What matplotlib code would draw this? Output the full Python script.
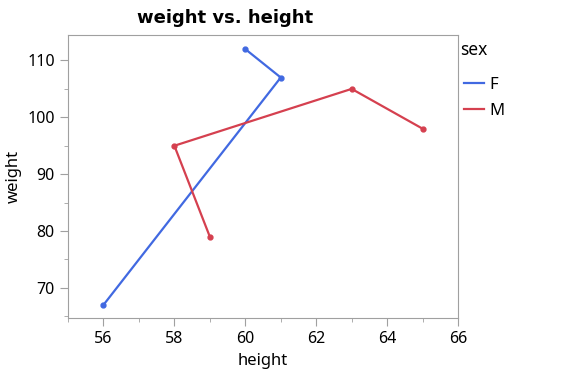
import matplotlib
matplotlib.use('Agg')
import matplotlib.pyplot as plt
from matplotlib.ticker import MultipleLocator

# data
f_height = [56, 61, 60]
f_weight = [67, 107, 112]
m_height = [59, 58, 63, 65]
m_weight = [79, 95, 105, 98]

blue = '#4169e1'
red = '#d5404f'
grey = '#a0a0a0'

plt.rcParams['font.family'] = ['Noto Sans', 'DejaVu Sans']

fig = plt.figure(figsize=(5.62, 3.75), dpi=100)
ax = fig.add_axes([0.121, 0.152, 0.694, 0.755])

ax.plot(f_height, f_weight, color=blue, lw=1.6, marker='o', ms=3.5, label='F')
ax.plot(m_height, m_weight, color=red, lw=1.6, marker='o', ms=3.5, label='M')

ax.set_xlim(55, 66)
ax.set_ylim(64.7, 114.5)
ax.xaxis.set_major_locator(MultipleLocator(2))
ax.xaxis.set_minor_locator(MultipleLocator(1))
ax.yaxis.set_major_locator(MultipleLocator(10))
ax.yaxis.set_minor_locator(MultipleLocator(5))

for s in ax.spines.values():
    s.set_color(grey)
ax.tick_params(which='both', color=grey, labelsize=11.5)
ax.tick_params(which='major', length=6)
ax.tick_params(which='minor', length=3)

ax.set_xlabel('height', fontsize=12)
ax.set_ylabel('weight', fontsize=12)
# title centred over the whole frame (JMP style), bold
fig.text(0.40, 0.952, 'weight vs. height', ha='center', va='center',
         fontsize=13, fontweight='bold', family=['DejaVu Sans'])

# legend header drawn separately to get the wider gap before the entries
fig.text(0.818, 0.866, 'sex', ha='left', va='center', fontsize=12.5)
leg = ax.legend(loc='upper left', bbox_to_anchor=(0.995, 0.88),
                borderaxespad=0.1, frameon=False, fontsize=12,
                handlelength=1.2, handletextpad=0.3, labelspacing=0.6)
for h in leg.legend_handles:
    h.set_marker('')

fig.savefig('out.png', dpi=100)
